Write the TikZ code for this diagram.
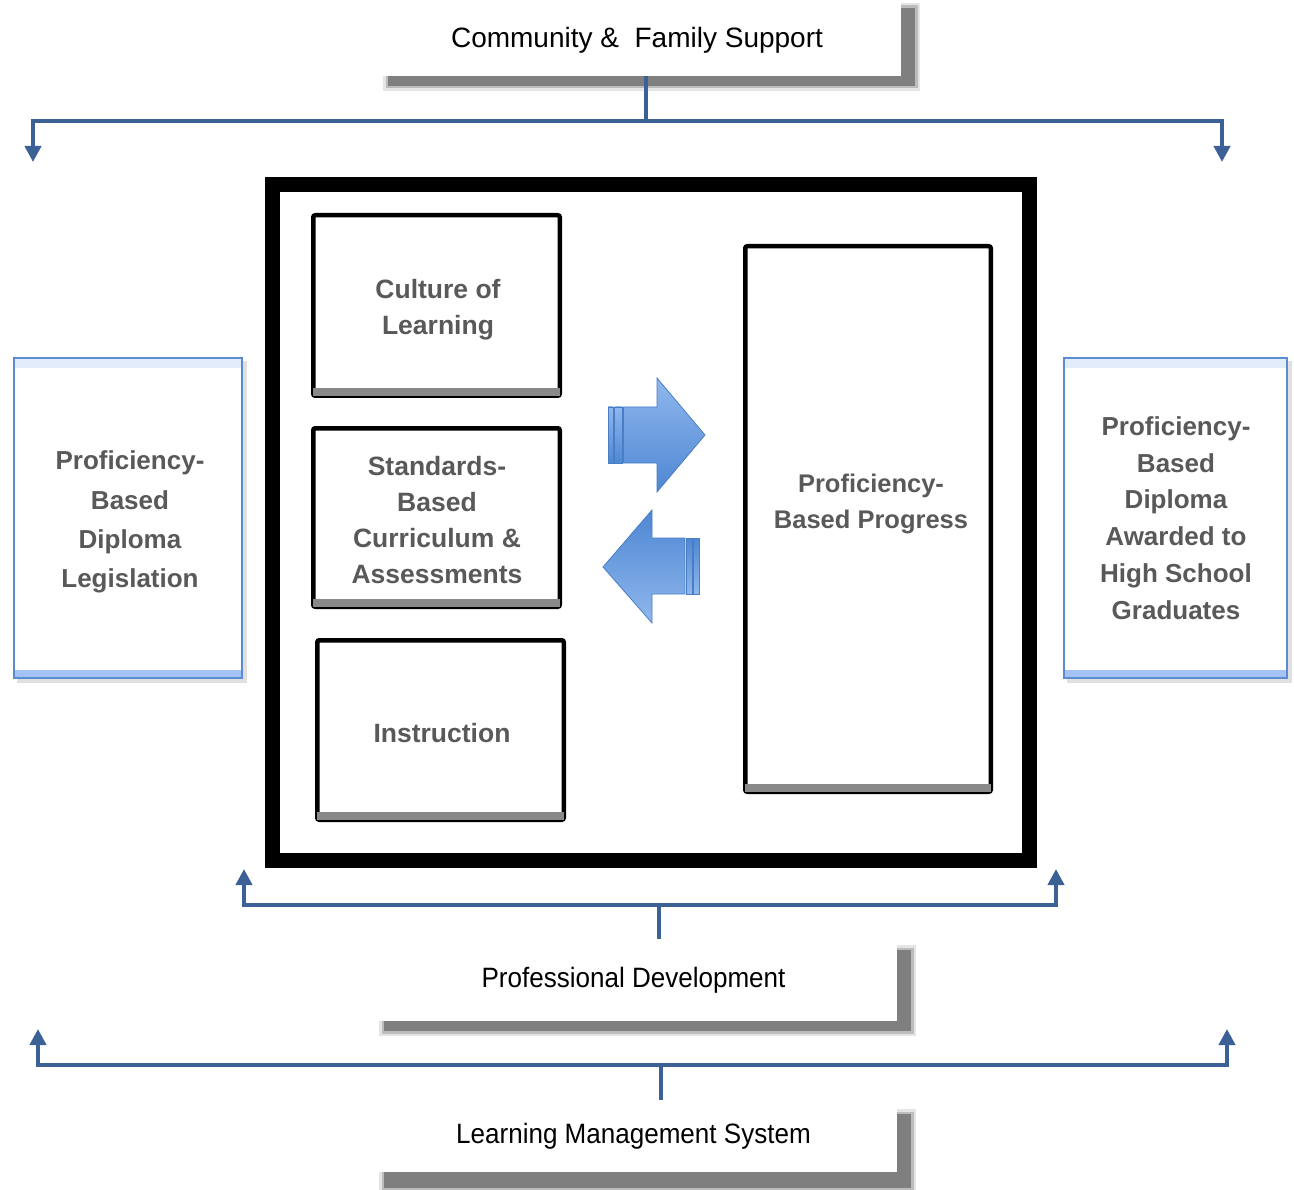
\documentclass[tikz,border=0pt]{standalone}
\usepackage{fontspec}
\setmainfont{Liberation Sans}
\newfontfamily\condfont[FakeStretch=0.93]{Liberation Sans}
\usetikzlibrary{arrows.meta,calc}
\definecolor{connblue}{HTML}{3B6196}
\definecolor{txtgray}{HTML}{595959}
\definecolor{sideborder}{HTML}{5B8BD0}
\definecolor{sidetop}{HTML}{E3ECFB}
\definecolor{sidebot}{HTML}{A4C2F4}
\definecolor{arrlight}{HTML}{90B7ED}
\definecolor{arrdark}{HTML}{4E87D3}
\definecolor{arredge}{HTML}{4A7EC4}
\definecolor{barfill}{HTML}{898989}
\definecolor{shadowgray}{HTML}{7F7F7F}
\newcommand{\softshadow}[4]{%
  \fill[shadowgray,opacity=0.2] (#1-5,#2-5) rectangle (#3+5,#4+5);
  \fill[shadowgray,opacity=0.4] (#1-2.5,#2-2.5) rectangle (#3+2.5,#4+2.5);
  \fill[shadowgray] (#1,#2) rectangle (#3,#4);}
\begin{document}
\begin{tikzpicture}[x=1pt,y=-1pt,
  conn/.style={draw=connblue, line width=4pt, line join=miter},
  connarrow/.style={conn, -{Triangle[length=16pt,width=16pt]}},
  plainbox/.style={fill=white, inner sep=0pt},
  plaintxt/.style={inner sep=0pt, font=\fontsize{28}{34}\selectfont},
  condbox/.style={fill=white, inner sep=0pt, font=\fontsize{28}{34}\selectfont\condfont},
  innerbox/.style={draw=black, line width=4.5pt, fill=white, rounded corners=2pt, inner sep=0pt},
  boldtxt/.style={inner sep=0pt, align=center, text=txtgray, font=\fontsize{26.5}{36}\selectfont\bfseries},
  sidebox/.style={draw=sideborder, line width=2pt, fill=white, inner sep=0pt, minimum height=320pt},
  sidetxt/.style={inner sep=0pt, align=center, text=txtgray},
  bluearrow/.style={draw=arredge, line width=0.8pt},
  bar/.style={fill=barfill},
]
\useasboundingbox (0,0) rectangle (1294,1190);

% ---------- top box ----------
\softshadow{388}{8}{915}{86}
\node[plainbox, minimum width=527pt, minimum height=84pt] (cfs) at (637.5,34) {};
\node[plaintxt] (cfst) at (637,40) {Community \&\ \ Family Support};
\coordinate (tj) at (646,121);
\coordinate (ta1) at (33,162);
\coordinate (ta2) at (1222,162);
\draw[conn] (cfs.south -| tj) -- (tj);
\draw[connarrow] (tj) -| (ta1);
\draw[connarrow] (tj) -| (ta2);

% ---------- side boxes ----------
\fill[black,opacity=0.12] (17,361) rectangle (247,683);
\node[sidebox, minimum width=228pt] (leg) at (128,518) {};
\fill[sidetop] (15,359) rectangle (241,368);
\fill[sidebot] (15,670) rectangle (241,677);
\node[sidetxt, font=\fontsize{26}{39.3}\selectfont\bfseries] (legt) at (130,522) {Proficiency-\\Based\\Diploma\\Legislation};

\fill[black,opacity=0.12] (1067,361) rectangle (1292,683);
\node[sidebox, minimum width=223pt] (grad) at (1175.5,518) {};
\fill[sidetop] (1065,359) rectangle (1286,368);
\fill[sidebot] (1065,670) rectangle (1286,677);
\node[sidetxt, font=\fontsize{26}{36.8}\selectfont\bfseries] (gradt) at (1176,518) {Proficiency-\\Based\\Diploma\\Awarded to\\High School\\Graduates};

% ---------- main frame ----------
\node[draw=black, line width=15pt, minimum width=757pt, minimum height=676pt, inner sep=0pt] (frame) at (651,522.5) {};

% ---------- inner boxes ----------
\node[innerbox, minimum width=246.5pt, minimum height=180.5pt] (col) at (436.5,305.5) {};
\fill[bar] ($(col.south west)+(2.25,-2.25)$) rectangle ($(col.south east)+(-2.25,-10.25)$);
\node[boldtxt] (colt) at (438,310) {Culture of\\Learning};

\node[innerbox, minimum width=246.5pt, minimum height=178.5pt] (sbc) at (436.5,517.5) {};
\fill[bar] ($(sbc.south west)+(2.25,-2.25)$) rectangle ($(sbc.south east)+(-2.25,-10.25)$);
\node[boldtxt] (sbct) at (437,520) {Standards-\\Based\\Curriculum \&\\Assessments};

\node[innerbox, minimum width=246.5pt, minimum height=179.5pt] (ins) at (440.5,730) {};
\fill[bar] ($(ins.south west)+(2.25,-2.25)$) rectangle ($(ins.south east)+(-2.25,-10.25)$);
\node[boldtxt] (inst) at (442,733) {Instruction};

\node[innerbox, minimum width=245.5pt, minimum height=545.5pt] (pbp) at (868,519) {};
\fill[bar] ($(pbp.south west)+(2.25,-2.25)$) rectangle ($(pbp.south east)+(-2.25,-10.25)$);
\node[boldtxt, font=\fontsize{25.5}{36}\selectfont\bfseries] (pbpt) at (871,504) {Proficiency-\\Based Progress};

% ---------- blue block arrows ----------
\shade[bluearrow, top color=arrlight, bottom color=arrdark] (608,407) rectangle (613,463);
\shade[bluearrow, top color=arrlight, bottom color=arrdark] (614.5,407) rectangle (622,463);
\shade[bluearrow, top color=arrlight, bottom color=arrdark]
  (623.5,407) -- (657,407) -- (657,378) -- (705,435) -- (657,492) -- (657,463) -- (623.5,463) -- cycle;

\shade[bluearrow, top color=arrdark, bottom color=arrlight]
  (603,567) -- (652,510) -- (652,538) -- (685,538) -- (685,594) -- (652,594) -- (652,623) -- cycle;
\shade[bluearrow, top color=arrdark, bottom color=arrlight] (686.5,538) rectangle (692,594);
\shade[bluearrow, top color=arrdark, bottom color=arrlight] (693.5,538) rectangle (699.5,594);

% ---------- professional development ----------
\softshadow{384}{950}{911}{1031}
\node[condbox, minimum width=527pt, minimum height=81pt] (pd) at (633.5,980) {Professional Development};
\coordinate (pj) at (659,905);
\coordinate (pa1) at (244,869);
\coordinate (pa2) at (1056,869);
\draw[conn] (pd.north -| pj) -- (pj);
\draw[connarrow] (pj) -| (pa1);
\draw[connarrow] (pj) -| (pa2);

% ---------- learning management system ----------
\softshadow{384}{1114}{911}{1188}
\node[condbox, minimum width=527pt, minimum height=72pt] (lms) at (633.5,1136) {Learning Management System};
\coordinate (lj) at (661,1065);
\coordinate (la1) at (38,1029);
\coordinate (la2) at (1227,1029);
\draw[conn] (lms.north -| lj) -- (lj);
\draw[connarrow] (lj) -| (la1);
\draw[connarrow] (lj) -| (la2);
\end{tikzpicture}
\end{document}
